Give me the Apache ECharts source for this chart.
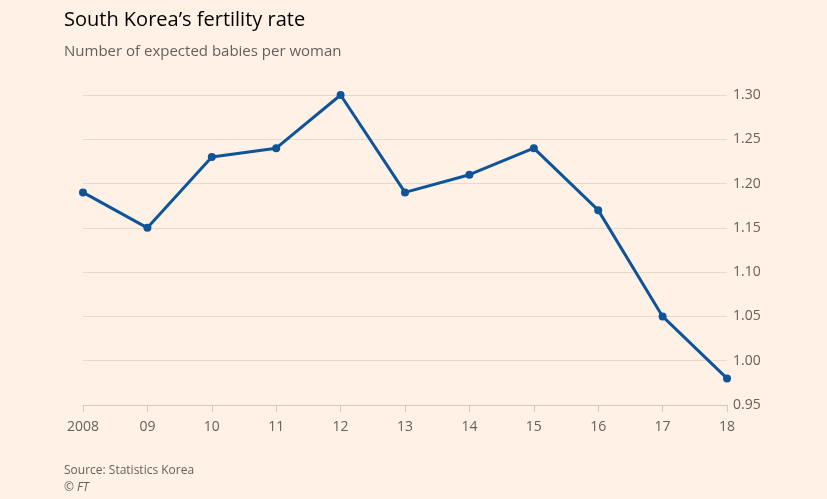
<!DOCTYPE html>
<html>
<head>
<meta charset="utf-8">
<script src="https://cdn.jsdelivr.net/npm/echarts@6/dist/echarts.min.js"></script>
<style>
html, body { margin: 0; padding: 0; background: #fff1e5; }
#main { width: 827px; height: 499px; }
</style>
</head>
<body>
<div id="main"></div>
<script>
var years = ['2008', '09', '10', '11', '12', '13', '14', '15', '16', '17', '18'];
var fertility = [1.19, 1.15, 1.23, 1.24, 1.30, 1.19, 1.21, 1.24, 1.17, 1.05, 0.98];
var yTicks = [0.95, 1.30, 0.05];

var font = 'Open Sans';
var chart = echarts.init(document.getElementById('main'));
chart.setOption({
    backgroundColor: '#fff1e5',
    animation: false,
    title: [{
        text: 'South Korea\u2019s fertility rate',
        left: 59, top: 5,
        textStyle: { fontFamily: font, fontSize: 20, fontWeight: 'normal', color: '#000' }
    }, {
        text: 'Number of expected babies per woman',
        left: 59, top: 39,
        textStyle: { fontFamily: font, fontSize: 15, fontWeight: 'normal', color: '#66605c' }
    }, {
        text: 'Source: Statistics Korea',
        left: 59, top: 460,
        textStyle: { fontFamily: font, fontSize: 12, fontWeight: 'normal', color: '#66605c' }
    }, {
        text: '\u00a9 FT',
        left: 59, top: 477,
        textStyle: { fontFamily: font, fontSize: 12, fontWeight: 'normal', fontStyle: 'italic', color: '#66605c' }
    }],
    grid: { left: 83, right: 100, top: 95, bottom: 94 },
    xAxis: {
        type: 'category',
        data: years,
        boundaryGap: false,
        axisLine: { lineStyle: { color: '#d4c9be', width: 1 } },
        axisTick: { show: true, length: 7, lineStyle: { color: '#d4c9be' } },
        axisLabel: { fontFamily: font, fontSize: 14, color: '#66605c', margin: 15 },
        splitLine: { show: false }
    },
    yAxis: {
        type: 'value',
        position: 'right',
        min: yTicks[0], max: yTicks[1], interval: yTicks[2],
        axisLine: { show: false },
        axisTick: { show: false },
        axisLabel: {
            fontFamily: font, fontSize: 14, color: '#66605c', margin: 6,
            formatter: function (v) { return v.toFixed(2); }
        },
        splitLine: { lineStyle: { color: '#e6d9ce', width: 1 } }
    },
    series: [{
        type: 'line',
        data: fertility,
        symbol: 'circle',
        symbolSize: 8,
        lineStyle: { color: '#0f5499', width: 3 },
        itemStyle: { color: '#0f5499' }
    }]
});
</script>
</body>
</html>
